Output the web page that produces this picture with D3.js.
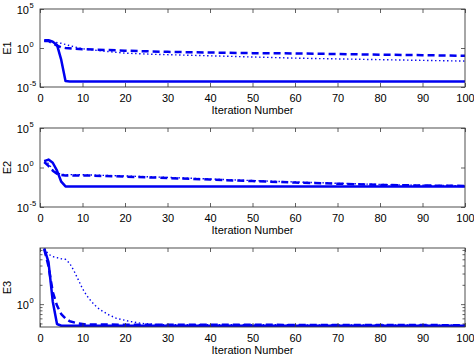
<!DOCTYPE html>
<html><head><meta charset="utf-8">
<script src="https://cdn.jsdelivr.net/npm/d3@7/dist/d3.min.js"></script>
<style>body{margin:0;background:#fff}svg{display:block}</style>
</head><body><svg id="c" width="474" height="356"></svg>
<script>
// ---------- data ----------
const xTicks = [0,10,20,30,40,50,60,70,80,90,100];
const xLabel = "Iteration Number";
const panelNames = ["E1","E2","E3"];

// E1
const e1SolidIter  = [1,2,3,4,5,6,7,100];
const e1SolidVal   = [10,10,6.3,2.5,0.03,6e-5,5e-5,5e-5];
const e1DashIter   = [1,2,3,4,5,6,8,10,20,30,40,50,60,70,80,90,100];
const e1DashVal    = [7.9,7.9,4.0,2.0,1.26,1.0,0.79,0.71,0.45,0.32,0.26,0.22,0.2,0.17,0.14,0.12,0.1];
const e1DotIter    = [1,3,5,7,10,15,20,26,40,60,80,100];
const e1DotVal     = [7.9,6.3,4.0,2.0,0.79,0.4,0.22,0.16,0.1,0.05,0.032,0.021];

// E2
const e2SolidIter  = [1,2,3,4,5,6,100];
const e2SolidVal   = [6.3,10,4.0,0.4,0.016,0.004,0.004];
const e2DashIter   = [1,2,3,4,5,6,10,20,30,40,50,60,70,80,90,100];
const e2DashVal    = [5.0,1.6,0.4,0.16,0.11,0.1,0.1,0.071,0.047,0.03,0.019,0.0126,0.0089,0.0063,0.0052,0.0047];
const e2DotIter    = [1,2,3,4,5,6,10,20,30,40,50,60,70,80,90,100];
const e2DotVal     = [7.9,3.2,0.5,0.2,0.14,0.126,0.12,0.085,0.056,0.035,0.022,0.0148,0.01,0.0071,0.0056,0.005];

// E3
const e3SolidIter  = [1,2,3,4,5,100];
const e3SolidVal   = [7.4,4.5,1.1,0.49,0.46,0.46];
const e3DashIter   = [1,2,3,4,5,6,7,9,11,100];
const e3DashVal    = [7.2,3.9,1.55,0.95,0.7,0.6,0.54,0.5,0.48,0.47];
const e3DotIter    = [1,2,3,4,5,6,7,8,9,10,11,12,13,14,16,18,21,24,28,100];
const e3DotVal     = [7.3,6.0,5.5,5.3,5.1,5.0,4.3,3.3,2.4,1.74,1.36,1.12,0.95,0.83,0.69,0.60,0.54,0.50,0.48,0.47];

const yMajor12 = [1e-5,1,1e5];
const yExp12   = ["-5","0","5"];
const yMajor3  = [1];
const yExp3    = ["0"];
const yMinor3  = [0.5,0.6,0.7,0.8,0.9,2,3,4,5,6,7];

// ---------- drawing ----------
const svg = d3.select("#c");
const FONT = "'Liberation Sans', Arial, Helvetica, sans-serif";
const BLUE = "#0000f0";
const AX = "#3a3a3a";
const x = d3.scaleLinear().domain([0,100]).range([40,465]);

const panels = [
  {name:panelNames[0], top:9,   bottom:87,  domain:[1e-5,1e5], major:yMajor12, exps:yExp12, minor:[],
   series:[[e1SolidIter,e1SolidVal,"solid"],[e1DashIter,e1DashVal,"dash"],[e1DotIter,e1DotVal,"dot"]]},
  {name:panelNames[1], top:128, bottom:207, domain:[1e-5,1e5], major:yMajor12, exps:yExp12, minor:[],
   series:[[e2SolidIter,e2SolidVal,"solid"],[e2DashIter,e2DashVal,"dash"],[e2DotIter,e2DotVal,"dot"]]},
  {name:panelNames[2], top:248, bottom:327, domain:[0.44,7.5], major:yMajor3, exps:yExp3, minor:yMinor3,
   series:[[e3SolidIter,e3SolidVal,"solid"],[e3DashIter,e3DashVal,"dash"],[e3DotIter,e3DotVal,"dot"]]}
];

panels.forEach((p,i)=>{
  const y = d3.scaleLog().domain(p.domain).range([p.bottom,p.top]);
  const g = svg.append("g");
  const cid = "clip"+i;
  svg.append("clipPath").attr("id",cid).append("rect")
    .attr("x",x(0)).attr("y",p.top).attr("width",x(100)-x(0)).attr("height",p.bottom-p.top);

  // lines
  const line = d3.line().x(d=>x(d[0])).y(d=>y(d[1]));
  const lg = g.append("g").attr("clip-path",`url(#${cid})`);
  p.series.forEach(([it,vals,style])=>{
    const pts = it.map((v,k)=>[v,vals[k]]);
    const path = lg.append("path").datum(pts).attr("d",line)
      .attr("fill","none").attr("stroke",BLUE).attr("stroke-linejoin","round");
    if(style==="solid") path.attr("stroke-width",2.5);
    if(style==="dash") path.attr("stroke-width",2.5).attr("stroke-dasharray","7,4");
    if(style==="dot") path.attr("stroke-width",1.4).attr("stroke-dasharray","1.4,2.6");
  });

  // axes (ticks inward, box)
  g.append("g").attr("transform",`translate(0,${p.bottom})`)
    .call(d3.axisBottom(x).tickValues(xTicks).tickSizeInner(-4).tickSizeOuter(0).tickPadding(7).tickFormat(d3.format("d")));
  g.append("g").attr("transform",`translate(0,${p.top})`)
    .call(d3.axisTop(x).tickValues(xTicks).tickSizeInner(-4).tickSizeOuter(0).tickFormat(""));
  g.append("g").attr("transform",`translate(${x(0)},0)`)
    .call(d3.axisLeft(y).tickValues(p.major).tickSizeInner(-4).tickSizeOuter(0).tickFormat(""));
  g.append("g").attr("transform",`translate(${x(100)},0)`)
    .call(d3.axisRight(y).tickValues(p.major).tickSizeInner(-4).tickSizeOuter(0).tickFormat(""));
  if(p.minor.length){
    g.append("g").attr("transform",`translate(${x(0)},0)`)
      .call(d3.axisLeft(y).tickValues(p.minor).tickSizeInner(-2.5).tickSizeOuter(0).tickFormat(""));
    g.append("g").attr("transform",`translate(${x(100)},0)`)
      .call(d3.axisRight(y).tickValues(p.minor).tickSizeInner(-2.5).tickSizeOuter(0).tickFormat(""));
  }
  g.selectAll(".domain").remove();
  g.selectAll(".tick line").attr("stroke",AX).attr("stroke-width",0.8);
  g.selectAll(".tick text").attr("font-family",FONT).attr("font-size",11).attr("fill","#000");
  g.append("rect").attr("x",x(0)).attr("y",p.top).attr("width",x(100)-x(0)).attr("height",p.bottom-p.top)
    .attr("fill","none").attr("stroke",AX).attr("stroke-width",0.9);

  // y tick labels 10^n
  p.major.forEach((v,k)=>{
    const yy = y(v);
    g.append("text").attr("x",29).attr("y",yy+4.5).attr("text-anchor","end")
      .attr("font-family",FONT).attr("font-size",11).text("10");
    g.append("text").attr("x",29.5).attr("y",yy-1.5)
      .attr("font-family",FONT).attr("font-size",7.5).text(p.exps[k]);
  });

  // y label
  g.append("text").attr("transform",`translate(11,${(p.top+p.bottom)/2}) rotate(-90)`)
    .attr("text-anchor","middle").attr("font-family",FONT).attr("font-size",11).text(p.name);
  // x label
  g.append("text").attr("x",(x(0)+x(100))/2).attr("y",p.bottom+27)
    .attr("text-anchor","middle").attr("font-family",FONT).attr("font-size",11).text(xLabel);
});
</script></body></html>
